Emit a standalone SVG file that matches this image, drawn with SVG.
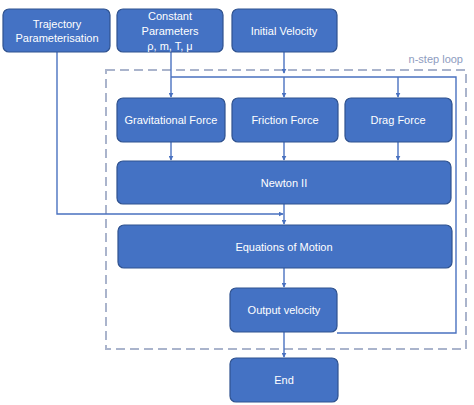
<svg xmlns="http://www.w3.org/2000/svg" width="474" height="405" viewBox="0 0 474 405">
<style>
.box{fill:#4472c4;stroke:#2f528f;stroke-width:1.2}
.t{font-family:"Liberation Sans",Arial,sans-serif;font-size:11px;fill:#ffffff;text-anchor:middle;dominant-baseline:central}
.c{fill:none;stroke:#4a72c0;stroke-width:1.4}
.loop{fill:none;stroke:#aab4cc;stroke-width:2;stroke-dasharray:9 5}
</style>
<defs>
<marker id="ah" viewBox="0 0 8 8" refX="7" refY="4" markerWidth="5" markerHeight="5" orient="auto" markerUnits="userSpaceOnUse">
<path d="M0,0 L8,4 L0,8 z" fill="#4a72c0"/>
</marker>
</defs>
<rect width="474" height="405" fill="#ffffff"/>
<g id="loopframe">
<rect class="loop" x="106" y="70" width="360" height="279"/>
<text x="463" y="63" style="font-family:'Liberation Sans',Arial,sans-serif;font-size:11px;fill:#8e9cc0;text-anchor:end">n-step loop</text>
</g>
<g id="connectors">
<path class="c" d="M57,52 V214 H283" marker-end="url(#ah)"/>
<path class="c" d="M171,52 V97" marker-end="url(#ah)"/>
<path class="c" d="M171,77 H456 V333 H337"/>
<path class="c" d="M284,52 V73" marker-end="url(#ah)"/>
<path class="c" d="M284,77 V97" marker-end="url(#ah)"/>
<path class="c" d="M398,77 V97" marker-end="url(#ah)"/>
<path class="c" d="M171,142 V160" marker-end="url(#ah)"/>
<path class="c" d="M284,142 V160" marker-end="url(#ah)"/>
<path class="c" d="M398,142 V160" marker-end="url(#ah)"/>
<path class="c" d="M284,204 V224" marker-end="url(#ah)"/>
<path class="c" d="M284,268 V287" marker-end="url(#ah)"/>
<path class="c" d="M284,332 V357" marker-end="url(#ah)"/>
</g>
<g id="trajectory">
<rect class="box" x="3" y="9" width="107" height="43" rx="6"/>
<text class="t" x="57" y="24">Trajectory</text>
<text class="t" x="57" y="38">Parameterisation</text>
</g>
<g id="constants">
<rect class="box" x="117" y="9" width="106" height="43" rx="6"/>
<text class="t" x="170" y="16">Constant</text>
<text class="t" x="170" y="31">Parameters</text>
<text class="t" x="170" y="46">ρ, m, T, μ</text>
</g>
<g id="initial">
<rect class="box" x="232" y="9" width="105" height="43" rx="6"/>
<text class="t" x="284" y="31">Initial Velocity</text>
</g>
<g id="gravity">
<rect class="box" x="117" y="98" width="108" height="44" rx="6"/>
<text class="t" x="171" y="120">Gravitational Force</text>
</g>
<g id="friction">
<rect class="box" x="232" y="98" width="106" height="44" rx="6"/>
<text class="t" x="285" y="120">Friction Force</text>
</g>
<g id="drag">
<rect class="box" x="345" y="98" width="107" height="44" rx="6"/>
<text class="t" x="398" y="120">Drag Force</text>
</g>
<g id="newton">
<rect class="box" x="117" y="161" width="334" height="43" rx="6"/>
<text class="t" x="284" y="183">Newton II</text>
</g>
<g id="eom">
<rect class="box" x="118" y="225" width="334" height="43" rx="6"/>
<text class="t" x="284" y="247">Equations of Motion</text>
</g>
<g id="output">
<rect class="box" x="230" y="288" width="107" height="44" rx="6"/>
<text class="t" x="284" y="310">Output velocity</text>
</g>
<g id="end">
<rect class="box" x="230" y="358" width="108" height="44" rx="6"/>
<text class="t" x="284" y="380">End</text>
</g>
</svg>
